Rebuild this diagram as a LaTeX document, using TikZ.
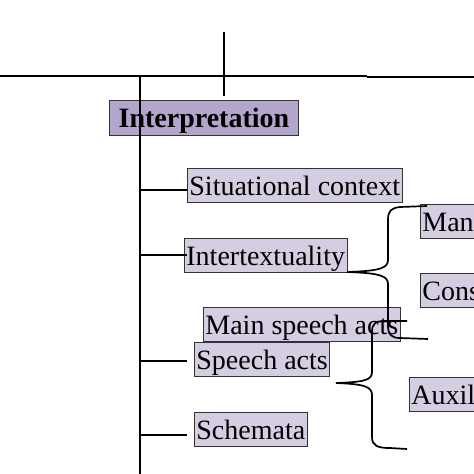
\documentclass[tikz,border=0pt]{standalone}
\usepackage{fontspec}
\setmainfont{Liberation Serif}
\definecolor{headfill}{HTML}{B3A6CC}
\definecolor{leaffill}{HTML}{D5CDE2}
\tikzset{
  leafbox/.style={draw=black!80,line width=0.8pt,fill=leaffill,anchor=north west,
    inner xsep=2pt,inner ysep=0pt,minimum height=34pt,text height=24pt,text depth=4pt,
    font=\fontsize{28}{30}\selectfont},
  headbox/.style={leafbox,fill=headfill,minimum width=189pt,minimum height=35pt,
    font=\fontsize{28}{30}\selectfont\bfseries},
  cutbox/.style={leafbox,text width=80pt,align=left},
  wire/.style={line width=1.7pt},
}
\begin{document}
\begin{tikzpicture}[x=1pt,y=-1pt]
\useasboundingbox (0,0) rectangle (474,474);
% Drawing boxes
\node[headbox] (interp) at (109,100) {Interpretation};
\node[leafbox] (sitctx) at (187,168) {Situational context};
\node[leafbox] (intertext) at (184,238) {Intertextuality};
\node[cutbox] (man) at (420,204) {Man};
\node[cutbox] (cons) at (420,273) {Cons};
\node[leafbox] (mainsa) at (203,307) {Main speech acts};
\node[leafbox] (speechacts) at (194,342) {Speech acts};
\node[cutbox] (auxil) at (409,377) {Auxil};
\node[leafbox] (schemata) at (194,412) {Schemata};
% Drawing wires
\draw[wire] (0,76) -- (367,76);
\draw[line width=1.2pt] (367,77) -- (474,77);
\draw[wire] (224,32) -- (224,96);
\coordinate (trunktop) at (140,76);
\coordinate (trunkend) at (140,474);
\draw[wire] (trunktop) -- (trunkend);
% Drawing branches
\coordinate (b1) at (140,190);
\coordinate (b2) at (140,255);
\coordinate (b3) at (140,361);
\coordinate (b4) at (140,435);
\draw[wire] (b1) -- (b1 -| sitctx.west);
\draw[wire] (b2) -- ([xshift=3pt]b2 -| intertext.west);
\draw[wire] (b3) -- ([xshift=-7pt]b3 -| speechacts.west);
\draw[wire] (b4) -- ([xshift=-7pt]b4 -| schemata.west);
% Drawing braces
\coordinate (tip1) at (347,272);
\draw[wire] (427,206) -- (400,207) .. controls (391,208) and (388,211) .. (388,220)
  -- (388,260) .. controls (388,268) and (380,271) .. (tip1)
  .. controls (380,273) and (388,276) .. (388,284) -- (388,326)
  .. controls (388,335) and (392,338) .. (400,338) -- (428,339);
\coordinate (tip2) at (336,383);
\draw[wire] (407,321) -- (385,321) .. controls (375,321) and (372,324) .. (372,332)
  -- (372,372) .. controls (372,380) and (365,382) .. (tip2)
  .. controls (365,384) and (372,387) .. (372,395) -- (372,437)
  .. controls (372,446) and (378,448) .. (390,448) -- (407,449);
\end{tikzpicture}
\end{document}
